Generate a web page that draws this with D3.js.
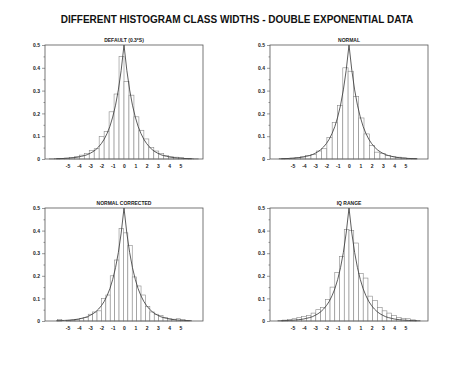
<!DOCTYPE html>
<html>
<head>
<meta charset="utf-8">
<script src="https://cdn.jsdelivr.net/npm/d3@7"></script>
<style>
  body { margin: 0; background: #fff; }
  svg { display: block; font-family: 'Liberation Sans', Arial, sans-serif; }
</style>
</head>
<body>
<script>
const chartTitle = 'DIFFERENT HISTOGRAM CLASS WIDTHS - DOUBLE EXPONENTIAL DATA';
const panelTitles = ['DEFAULT (0.3*S)', 'NORMAL', 'NORMAL CORRECTED', 'IQ RANGE'];

// left edge of first class and class width for each panel
const binStarts = [-6.6, -6.19, -5.9, -6.3];
const binWidths = [0.44, 0.47, 0.39, 0.42];

// relative frequencies, left to right
const defaultHeights = [0.001, 0.002, 0.002, 0.004, 0.006, 0.01, 0.017, 0.025, 0.038, 0.045,
  0.098, 0.12, 0.207, 0.285, 0.45, 0.34, 0.28, 0.185, 0.126, 0.088, 0.05, 0.035, 0.025,
  0.015, 0.01, 0.008, 0.006, 0.003, 0.002, 0.001];
const normalHeights = [0.002, 0.003, 0.004, 0.006, 0.01, 0.015, 0.02, 0.035, 0.045, 0.095,
  0.16, 0.235, 0.4, 0.385, 0.275, 0.18, 0.11, 0.06, 0.03, 0.025, 0.015, 0.01, 0.008,
  0.005, 0.003, 0.002];
const correctedHeights = [0.006, 0, 0.002, 0.004, 0.006, 0.01, 0.015, 0.03, 0.04, 0.045,
  0.1, 0.115, 0.2, 0.27, 0.41, 0.39, 0.335, 0.195, 0.155, 0.115, 0.065, 0.04, 0.03, 0.025,
  0.015, 0.01, 0.008, 0.01, 0.006, 0.003];
const iqHeights = [0.003, 0.004, 0.006, 0.01, 0.015, 0.02, 0.025, 0.035, 0.05, 0.06, 0.095,
  0.15, 0.215, 0.285, 0.405, 0.4, 0.345, 0.21, 0.19, 0.11, 0.09, 0.06, 0.045, 0.035, 0.025,
  0.015, 0.012, 0.01, 0.005, 0.003];
const panelHeights = [defaultHeights, normalHeights, correctedHeights, iqHeights];

// double exponential density, read at 0.25 steps
const curveX = [-6, -5.75, -5.5, -5.25, -5, -4.75, -4.5, -4.25, -4, -3.75, -3.5, -3.25, -3,
  -2.75, -2.5, -2.25, -2, -1.75, -1.5, -1.25, -1, -0.75, -0.5, -0.25, 0, 0.25, 0.5, 0.75, 1,
  1.25, 1.5, 1.75, 2, 2.25, 2.5, 2.75, 3, 3.25, 3.5, 3.75, 4, 4.25, 4.5, 4.75, 5, 5.25, 5.5,
  5.75, 6];
const curveY = [0.0012, 0.0016, 0.002, 0.0026, 0.0034, 0.0043, 0.0056, 0.007, 0.009, 0.012,
  0.015, 0.019, 0.025, 0.032, 0.041, 0.053, 0.068, 0.087, 0.112, 0.143, 0.184, 0.236, 0.303,
  0.389, 0.5, 0.389, 0.303, 0.236, 0.184, 0.143, 0.112, 0.087, 0.068, 0.053, 0.041, 0.032,
  0.025, 0.019, 0.015, 0.012, 0.009, 0.007, 0.0056, 0.0043, 0.0034, 0.0026, 0.002, 0.0016,
  0.0012];

const xTicks = [-5, -4, -3, -2, -1, 0, 1, 2, 3, 4, 5];
const yTicks = [0, 0.1, 0.2, 0.3, 0.4, 0.5];
const yMinorTicks = [0.05, 0.15, 0.25, 0.35, 0.45];

const width = 474, height = 366;
const frames = [
  { x0: 45, x1: 203, y0: 45, y1: 159 },
  { x0: 270, x1: 428, y0: 45, y1: 159 },
  { x0: 45, x1: 203, y0: 208, y1: 321 },
  { x0: 270, x1: 428, y0: 208, y1: 321 }
];

const svg = d3
  .select('body')
  .append('svg')
  .attr('width', width)
  .attr('height', height);

svg.append('rect').attr('width', width).attr('height', height).attr('fill', '#fff');

svg
  .append('text')
  .attr('x', 237)
  .attr('y', 23)
  .attr('text-anchor', 'middle')
  .attr('font-size', 10)
  .attr('font-weight', 'bold')
  .attr('fill', '#111')
  .text(chartTitle);

frames.forEach((f, p) => {
  const x = d3.scaleLinear().domain([-7, 7]).range([f.x0, f.x1]);
  const y = d3.scaleLinear().domain([0, 0.5]).range([f.y1, f.y0]);
  const g = svg.append('g');

  const bins = panelHeights[p].map((h, i) => ({
    lo: binStarts[p] + i * binWidths[p],
    hi: binStarts[p] + (i + 1) * binWidths[p],
    h: h
  }));

  g.selectAll('rect.bar')
    .data(bins)
    .enter()
    .append('rect')
    .attr('class', 'bar')
    .attr('x', d => x(d.lo))
    .attr('width', d => x(d.hi) - x(d.lo))
    .attr('y', d => y(d.h))
    .attr('height', d => y(0) - y(d.h))
    .attr('fill', '#fff')
    .attr('stroke', '#888')
    .attr('stroke-width', 0.6);

  const line = d3
    .line()
    .x((d, i) => x(curveX[i]))
    .y(d => y(d));
  g.append('path')
    .datum(curveY)
    .attr('d', line)
    .attr('fill', 'none')
    .attr('stroke', '#333')
    .attr('stroke-width', 0.8);

  // frame
  g.append('rect')
    .attr('x', f.x0)
    .attr('y', f.y0)
    .attr('width', f.x1 - f.x0)
    .attr('height', f.y1 - f.y0)
    .attr('fill', 'none')
    .attr('stroke', '#555')
    .attr('stroke-width', 0.8);

  const yAxis = g
    .append('g')
    .attr('transform', `translate(${f.x0},0)`)
    .call(
      d3
        .axisLeft(y)
        .tickValues(yTicks)
        .tickSize(3)
        .tickPadding(2)
        .tickFormat(d => (d === 0 ? '0' : d.toFixed(1)))
    );
  g.append('g')
    .attr('transform', `translate(${f.x0},0)`)
    .call(d3.axisLeft(y).tickValues(yMinorTicks).tickSize(1.5).tickFormat(''))
    .call(a => a.select('.domain').remove());

  const xAxis = g
    .append('g')
    .attr('transform', `translate(0,${f.y1})`)
    .call(d3.axisBottom(x).tickValues(xTicks).tickSize(0).tickPadding(5).tickFormat(d => String(d)));

  [yAxis, xAxis].forEach(a => {
    a.select('.domain').remove();
    a.selectAll('text')
      .attr('font-size', 5)
      .attr('font-weight', 'bold')
      .attr('fill', '#222')
      .attr('font-family', "'Liberation Sans', Arial, sans-serif");
  });
  g.selectAll('.tick line').attr('stroke', '#555').attr('stroke-width', 0.6);

  g.append('text')
    .attr('x', (f.x0 + f.x1) / 2)
    .attr('y', f.y0 - 3)
    .attr('text-anchor', 'middle')
    .attr('font-size', 5)
    .attr('font-weight', 'bold')
    .attr('fill', '#222')
    .text(panelTitles[p]);
});
</script>
</body>
</html>
